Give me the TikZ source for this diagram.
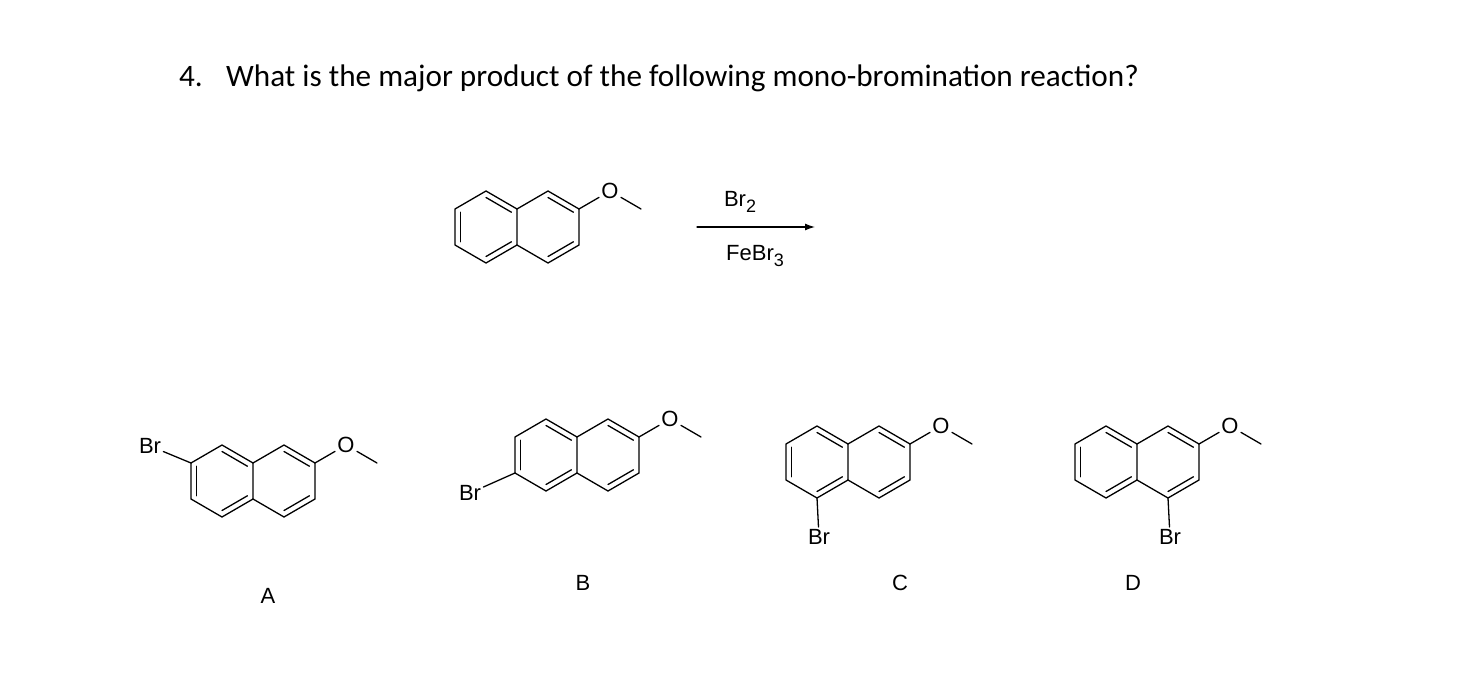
\documentclass[tikz,border=0pt]{standalone}
\usepackage{fontspec}
\setmainfont{Carlito}
\newfontfamily\chemfont{Liberation Sans}
\usetikzlibrary{calc,arrows.meta}
\tikzset{bond/.style={line width=0.65pt,line cap=round},
  atom/.style={font=\chemfont\fontsize{11}{13}\selectfont,inner sep=1pt},
  lbl/.style={font=\chemfont\fontsize{11}{13}\selectfont}}
\newcommand\sbs[1]{\raisebox{-0.3em}{\fontsize{9}{10}\selectfont #1}}
\newcommand\dbl[3]{\draw[bond] ($(#1)!0.18!(#3)$) -- ($(#2)!0.18!(#3)$);}
\newcommand\naph[3]{%
 \begin{scope}[shift={(#2,#3)}]
  \coordinate (#1c1) at (-31,0); \coordinate (#1c2) at (31,0);
  \coordinate (#1a) at (-31,-36); \coordinate (#1b) at (0,-18);
  \coordinate (#1d) at (0,18); \coordinate (#1e) at (-31,36);
  \coordinate (#1f) at (-62,18); \coordinate (#1g) at (-62,-18);
  \coordinate (#1h) at (31,-36); \coordinate (#1i) at (62,-18);
  \coordinate (#1j) at (62,18); \coordinate (#1k) at (31,36);
  \node[atom] (#1O) at (93,-36) {O};
  \coordinate (#1m) at (124,-18);
 \end{scope}
 \draw[bond] (#1a)--(#1b)--(#1d)--(#1e)--(#1f)--(#1g)--cycle;
 \draw[bond] (#1b)--(#1h)--(#1i)--(#1j)--(#1k)--(#1d);
 \dbl{#1a}{#1b}{#1c1}\dbl{#1g}{#1f}{#1c1}\dbl{#1e}{#1d}{#1c1}
 \dbl{#1h}{#1i}{#1c2}\dbl{#1k}{#1j}{#1c2}
 \draw[bond] (#1i)--(#1O)--(#1m);}
\begin{document}
\begin{tikzpicture}[x=0.5pt,y=-0.5pt]
\useasboundingbox (0,0) rectangle (1482,674);
\node[anchor=west,font=\fontsize{15.6}{18}\selectfont] (title) at (172,78) {4.\hspace{0.75em}What is the major product of the following mono-bromination reaction?};
\naph{s}{517}{227}
\node[atom] (br2) at (740,202) {Br\sbs{2}};
\node[atom] (febr) at (755,256) {FeBr\sbs{3}};
\coordinate (ar1) at (697,227); \coordinate (ar2) at (815,227);
\draw[bond,-{Latex[length=5pt,width=3.5pt]}] (ar1)--(ar2);
% A
\naph{A}{253}{481}
\node[atom] (ABr) at (150,446) {Br};
\draw[bond] (Ag)--(ABr);
\node[lbl] (la) at (268,596) {A};
% B
\naph{B}{577}{455}
\node[atom] (BBr) at (470,493) {Br};
\draw[bond] (Bf)--(BBr);
\node[lbl] (lb) at (583,583) {B};
% C
\naph{C}{848}{462}
\node[atom] (CBr) at (819,537) {Br};
\draw[bond] (Ce)--(CBr);
\node[lbl] (lc) at (900,583) {C};
% D
\naph{D}{1137}{462}
\node[atom] (DBr) at (1170,537) {Br};
\draw[bond] (Dk)--(DBr);
\node[lbl] (ld) at (1133,583) {D};
\end{tikzpicture}
\end{document}
